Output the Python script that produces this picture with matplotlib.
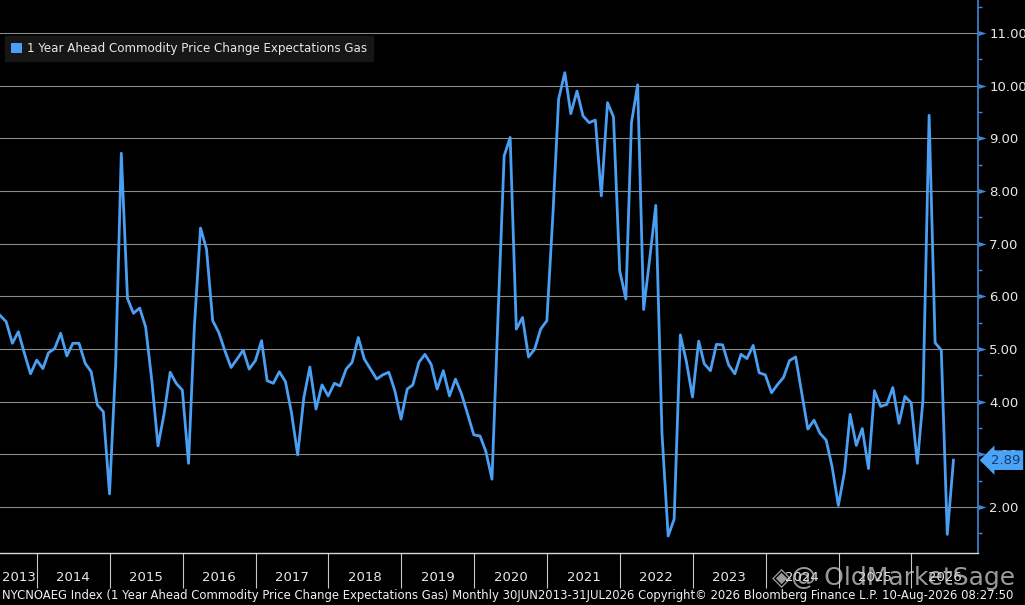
import matplotlib
matplotlib.use('Agg')
import matplotlib.pyplot as plt
import matplotlib.dates as mdates
from matplotlib.ticker import MultipleLocator, FixedLocator, NullFormatter, FixedFormatter
from matplotlib.patches import Patch
import pandas as pd

# ---------------- data ----------------
start_date = '2013-06-30'
axis_end_date = '2026-12-01'
series_name = '1 Year Ahead Commodity Price Change Expectations Gas'
values = [
    5.64, 5.52, 5.11, 5.33, 4.91, 4.53, 4.79,                                # 2013 Jun-Dec
    4.63, 4.93, 5.01, 5.30, 4.87, 5.11, 5.11, 4.73, 4.57, 3.94, 3.81, 2.25,  # 2014
    4.73, 8.72, 5.96, 5.68, 5.78, 5.42, 4.40, 3.16, 3.76, 4.56, 4.35, 4.22,  # 2015
    2.83, 5.41, 7.30, 6.90, 5.54, 5.32, 4.97, 4.65, 4.81, 4.98, 4.62, 4.78,  # 2016
    5.16, 4.40, 4.35, 4.57, 4.38, 3.79, 2.99, 4.08, 4.66, 3.86, 4.32, 4.11,  # 2017
    4.35, 4.30, 4.62, 4.75, 5.22, 4.81, 4.62, 4.43, 4.51, 4.56, 4.21, 3.67,  # 2018
    4.24, 4.32, 4.75, 4.90, 4.71, 4.24, 4.59, 4.11, 4.43, 4.14, 3.76, 3.37,  # 2019
    3.35, 3.06, 2.53, 5.60, 8.67, 9.02, 5.38, 5.60, 4.85, 5.00, 5.38, 5.54,  # 2020
    7.60, 9.75, 10.25, 9.47, 9.90, 9.43, 9.30, 9.35, 7.91, 9.68, 9.41, 6.49, # 2021
    5.95, 9.30, 10.02, 5.75, 6.73, 7.73, 3.40, 1.45, 1.77, 5.27, 4.77, 4.09, # 2022
    5.15, 4.72, 4.59, 5.09, 5.08, 4.70, 4.53, 4.90, 4.82, 5.07, 4.55, 4.51,  # 2023
    4.17, 4.32, 4.46, 4.78, 4.85, 4.17, 3.48, 3.65, 3.40, 3.27, 2.76, 2.03,  # 2024
    2.67, 3.76, 3.17, 3.49, 2.73, 4.21, 3.91, 3.95, 4.27, 3.59, 4.10, 3.98,  # 2025
    2.83, 4.03, 9.44, 5.12, 4.98, 1.48, 2.89,                                # 2026 Jan-Jul
]
y_ticks = [2, 3, 4, 5, 6, 7, 8, 9, 10, 11]
y_limits = (1.127, 11.63)
years = list(range(2013, 2027))
footnote = ('NYCNOAEG Index (1 Year Ahead Commodity Price Change Expectations Gas) Monthly '
            '30JUN2013-31JUL2026 Copyright\u00a9 2026 Bloomberg Finance L.P. 10-Aug-2026 08:27:50')
watermark = '\u25c8@ OldMarketSage'

# ---------------- style ----------------
BG = 'black'
BLUE = '#4a9ff2'
SPINE_BLUE = '#3f86d6'
GRID = '#8a8a8a'
TXT = '#e8e8e8'
plt.rcParams['font.family'] = ['DejaVu Sans']

dates = pd.date_range(start_date, periods=len(values), freq='ME')

fig = plt.figure(figsize=(10.25, 6.05), dpi=100, facecolor=BG)
ax = fig.add_axes([0, 1 - 553 / 605, 978 / 1025, 553 / 605])
ax.set_facecolor(BG)

ax.plot(dates, values, color=BLUE, lw=2.0, zorder=4)

x0 = mdates.date2num(pd.Timestamp(start_date))
x1 = mdates.date2num(pd.Timestamp(axis_end_date))
ax.set_xlim(x0, x1)
ax.set_ylim(*y_limits)

# y axis on the right
ax.yaxis.tick_right()
ax.set_yticks(y_ticks)
ax.set_yticklabels([f'{v:.2f}' for v in y_ticks])
ax.yaxis.set_minor_locator(MultipleLocator(0.5))
ax.tick_params(axis='y', which='major', length=0, pad=8, labelcolor=TXT, labelsize=9.5)
ax.tick_params(axis='y', which='minor', length=3, color=SPINE_BLUE, width=1)
ax.plot([1] * len(y_ticks), y_ticks, transform=ax.get_yaxis_transform(), ls='none',
        marker=[(0, -0.31), (0, 0.31), (1, 0)], ms=11.6, color=SPINE_BLUE,
        mec='none', clip_on=False, zorder=5)

ax.grid(axis='y', which='major', color=GRID, lw=0.8)
ax.set_axisbelow(True)

# x axis: year separators + centred year labels
year_starts = [mdates.date2num(pd.Timestamp(f'{y}-01-01')) for y in years[1:]]
bounds = [x0] + year_starts + [x1]
mids = [(bounds[i] + bounds[i + 1]) / 2 for i in range(len(years))]
ax.xaxis.set_major_locator(FixedLocator(year_starts))
ax.xaxis.set_major_formatter(NullFormatter())
ax.xaxis.set_minor_locator(FixedLocator(mids))
ax.xaxis.set_minor_formatter(FixedFormatter([str(y) for y in years]))
ax.tick_params(axis='x', which='major', length=25, color='#c8c8c8', width=0.8)
ax.tick_params(axis='x', which='minor', length=0, pad=13, labelcolor=TXT, labelsize=9.5)

for s in ['left', 'top']:
    ax.spines[s].set_visible(False)
ax.spines['right'].set_color(SPINE_BLUE)
ax.spines['right'].set_linewidth(1.2)
ax.spines['bottom'].set_color('#d8d8d8')
ax.spines['bottom'].set_linewidth(1.0)

# last value tag
ax.annotate(f'{values[-1]:.2f}', xy=(1, values[-1]), xycoords=ax.get_yaxis_transform(),
            xytext=(9, 0), textcoords='offset points', ha='left', va='center',
            color='#0f3a78', fontsize=9.5,
            bbox=dict(boxstyle='larrow,pad=0.25', fc='#4aa3f5', ec='none'),
            zorder=10, annotation_clip=False)

# legend
leg = ax.legend(handles=[Patch(facecolor=BLUE, edgecolor='none')], labels=[series_name],
                loc='upper left', bbox_to_anchor=(5 / 978, 1 - 36 / 553), borderaxespad=0,
                frameon=True, fancybox=False, facecolor='#161616', edgecolor='#161616',
                framealpha=1, fontsize=8.6, labelcolor=TXT, handlelength=0.95,
                handleheight=0.95, handletextpad=0.4, borderpad=0.5)

# footnote and watermark
fig.text(2 / 1025, 1 - 596 / 605, footnote, color='#f0f0f0', fontsize=8.35, va='center', ha='left')
fig.text(772 / 1025, 1 - 578 / 605, watermark, color='#cfcfcf', alpha=0.75, fontsize=18,
         va='center', ha='left')

fig.savefig('out.png', dpi=100, facecolor=BG)
